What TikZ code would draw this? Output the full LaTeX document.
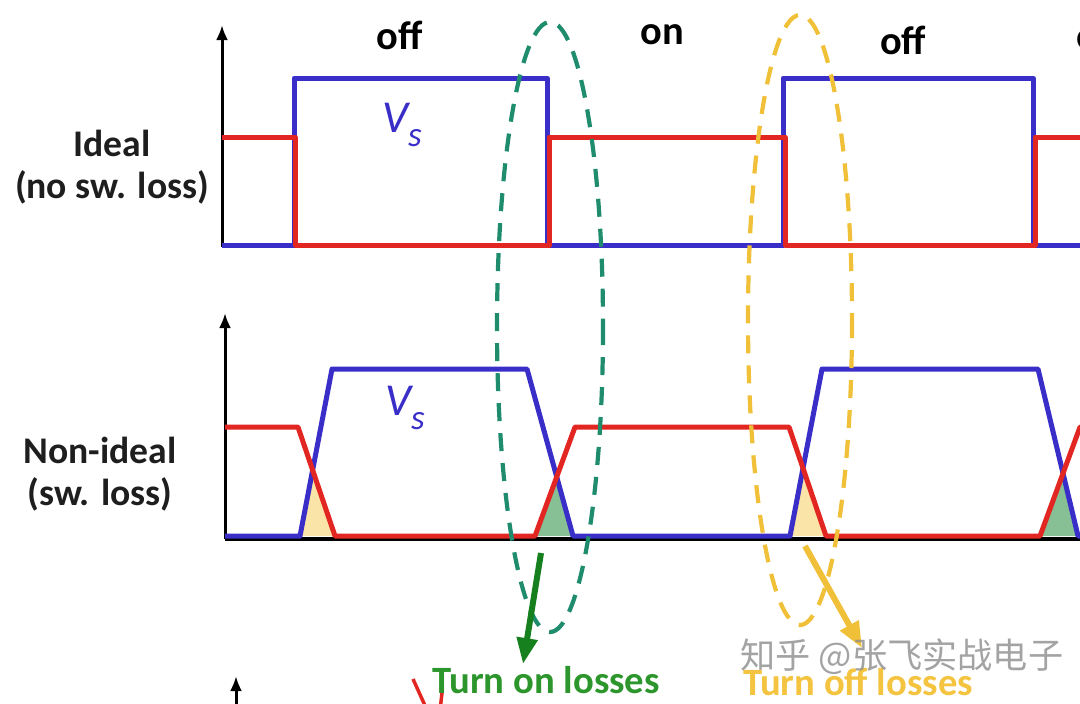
\documentclass[tikz,border=0pt]{standalone}
\usepackage{fontspec}
\setmainfont{Carlito}
\newfontfamily\cjkfont{Noto Sans CJK SC}
\usetikzlibrary{
  arrows.meta,
  positioning
}
\definecolor{vscolor}{RGB}{58, 46, 200}
\definecolor{iscolor}{RGB}{226, 38, 34}
\definecolor{onringcolor}{RGB}{32, 140, 110}
\definecolor{offringcolor}{RGB}{240, 192, 56}
\definecolor{onarrowcolor}{RGB}{22, 128, 30}
\definecolor{ontextcolor}{RGB}{44, 150, 44}
\definecolor{offtextcolor}{RGB}{244, 196, 64}
\definecolor{onfillcolor}{RGB}{136, 192, 150}
\definecolor{offfillcolor}{RGB}{250, 228, 168}
\definecolor{labelcolor}{RGB}{30, 30, 30}
\definecolor{markcolor}{RGB}{140, 140, 140}
\tikzset{
axisarrow/.style={
  -{Latex[length=1.5mm,width=1.2mm]},
  line width=0.3mm,
  draw=black
},
vswave/.style={
  draw=vscolor,
  line width=0.5mm,
  line join=round
},
iswave/.style={
  draw=iscolor,
  line width=0.5mm,
  line join=round
},
statelabel/.style={
  font=\fontsize{11.5}{13}\selectfont\bfseries,
  text=black
},
rowlabel/.style={
  font=\fontsize{10.7}{12}\selectfont\bfseries,
  text=labelcolor,
  align=center
},
vslabel/.style={
  font=\fontsize{13}{15}\selectfont\itshape,
  text=vscolor
},
lossring/.style={
  dash pattern=on 1.8mm off 1.2mm,
  line width=0.42mm
},
lossarrow/.style={
  -{Triangle[length=2.6mm,width=2mm]},
  line width=0.6mm
},
losslabel/.style={
  font=\fontsize{11}{13}\selectfont\bfseries
}
}

\begin{document}
\begin{tikzpicture}[x=0.01cm, y=-0.01cm]
  \useasboundingbox (0,0) rectangle (1080,703);
  \clip (0,0) rectangle (1080,703);

  % State labels
  \node[statelabel] (off1) at (400,35) {off};
  \node[statelabel] (on1) at (662,35) {on};
  \node[statelabel] (off2) at (903,40) {off};
  \node[statelabel, anchor=west, inner sep=0pt] (on2) at (1076,40) {on};

  % Row labels
  \node[rowlabel] (ideal) at (112,167) {Ideal\\(no sw. loss)};
  \node[rowlabel] (nonideal) at (100,474) {Non-ideal\\(sw. loss)};

  % Row 1: ideal switching
  \draw[axisarrow] (222,247) -- (222,25);
  \draw[vswave] (222,245) -- (294,245) -- (294,78) -- (547,78) -- (547,245)
    -- (783,245) -- (783,78) -- (1033,78) -- (1033,245) -- (1090,245);
  \draw[iswave] (222,137) -- (295,137) -- (295,245) -- (549,245) -- (549,137)
    -- (785,137) -- (785,245) -- (1035,245) -- (1035,137) -- (1090,137);
  \node[vslabel] (vs1) at (402,125) {V\raisebox{-0.6ex}{\fontsize{10}{10}\selectfont s}};

  % Row 2: switching losses
  \fill[offfillcolor] (300,536) -- (intersection of 300,536--332,369 and 298,427--335,536) -- (335,536) -- cycle;
  \fill[onfillcolor] (535,536) -- (intersection of 527,369--573,536 and 535,536--575,427) -- (573,536) -- cycle;
  \fill[offfillcolor] (790,536) -- (intersection of 790,536--822,369 and 789,427--826,536) -- (826,536) -- cycle;
  \fill[onfillcolor] (1040,536) -- (intersection of 1038,369--1078,536 and 1040,536--1080,427) -- (1078,536) -- cycle;
  \draw[line width=0.4mm] (225,539) -- (1090,539);
  \draw[axisarrow] (225,539) -- (225,313);
  \draw[vswave] (225,536) -- (300,536) -- (332,369) -- (527,369) -- (573,536)
    -- (790,536) -- (822,369) -- (1038,369) -- (1078,536) -- (1090,536);
  \draw[iswave] (225,427) -- (298,427) -- (335,536) -- (535,536) -- (575,427)
    -- (789,427) -- (826,536) -- (1040,536) -- (1080,427) -- (1090,427);
  \node[vslabel] (vs2) at (405,408) {V\raisebox{-0.6ex}{\fontsize{10}{10}\selectfont s}};

  % Loss rings
  \draw[lossring, draw=onringcolor] (550,327) ellipse [x radius=53, y radius=305];
  \draw[lossring, draw=offringcolor] (800,320) ellipse [x radius=52, y radius=305];

  % Loss labels and arrows
  \node[losslabel, text=ontextcolor] (onlbl) at (546,680) {Turn on losses};
  \node[losslabel, text=offtextcolor] (offlbl) at (858,682) {Turn off losses};
  \coordinate (onstart) at (541,553);
  \coordinate (onend) at (523,664);
  \coordinate (offstart) at (805,546);
  \coordinate (offend) at (862,648);
  \draw[lossarrow, draw=onarrowcolor, fill=onarrowcolor] (onstart) -- (onend);
  \draw[lossarrow, draw=offringcolor, fill=offringcolor] (offstart) -- (offend);

  % Row 3: cut off at the bottom
  \draw[axisarrow] (236,710) -- (236,676);
  \draw[iscolor, line width=0.35mm] (413,679) -- (427,710);
  \draw[iscolor, line width=0.35mm] (442,693) -- (440,710);

  % Watermark
  \node[font=\cjkfont\fontsize{10}{12}\selectfont, text=markcolor, opacity=0.8] (mark) at (902,657) {知乎 @张飞实战电子};
\end{tikzpicture}
\end{document}
